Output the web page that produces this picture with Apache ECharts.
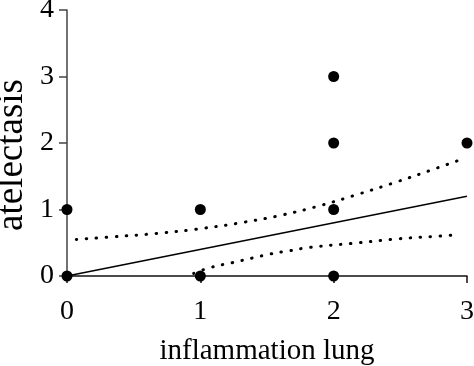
<!DOCTYPE html>
<html><head><meta charset="utf-8">
<script src="https://cdn.jsdelivr.net/npm/echarts@6/dist/echarts.min.js"></script>
<style>html,body{margin:0;padding:0;background:#fff}#c{width:474px;height:366px}</style>
</head><body><div id="c"></div>
<script>
const xTicks = [0, 1, 2, 3];
const yTicks = [0, 1, 2, 3, 4];
const pointsX = [0, 0, 1, 1, 2, 2, 2, 2, 3];
const pointsY = [0, 1, 0, 1, 0, 1, 2, 3, 2];
const fitX = [0, 3];
const fitY = [0, 1.2];
const upperX = [0.07, 0.35, 0.67, 1.03, 1.33, 1.62, 1.9, 2.2, 2.48, 2.77, 2.98];
const upperY = [0.55, 0.59, 0.64, 0.72, 0.81, 0.92, 1.06, 1.24, 1.42, 1.62, 1.77];
const lowerX = [0.95, 1.08, 1.24, 1.39, 1.52, 1.67, 1.82, 2.19, 2.49, 2.79, 2.94];
const lowerY = [0.04, 0.13, 0.2, 0.27, 0.33, 0.38, 0.43, 0.5, 0.56, 0.6, 0.62];
const xName = 'inflammation lung';
const yName = 'atelectasis';

const zip = (a, b) => a.map((v, i) => [v, b[i]]);
const font = 'Liberation Serif';
const chart = echarts.init(document.getElementById('c'));
const dotted = { color: '#000', width: 3, type: [0.5, 9.5], cap: 'round' };
chart.setOption({
  animation: false,
  grid: { left: 67, right: 7, top: 10, bottom: 90, containLabel: false, outerBoundsMode: 'none' },
  xAxis: {
    type: 'value', min: xTicks[0], max: xTicks[xTicks.length - 1], interval: 1,
    name: xName, nameLocation: 'middle', nameGap: 61, nameMoveOverlap: false,
    nameTextStyle: { fontFamily: font, fontSize: 29, color: '#000' },
    axisLine: { show: true, lineStyle: { color: '#111', width: 1.5 } },
    axisTick: { show: true, length: 7, lineStyle: { color: '#111', width: 1.5 } },
    axisLabel: { fontFamily: font, fontSize: 28, color: '#000', margin: 22 },
    splitLine: { show: false }
  },
  yAxis: {
    type: 'value', min: yTicks[0], max: yTicks[yTicks.length - 1], interval: 1,
    name: yName, nameLocation: 'middle', nameGap: 36, nameRotate: 90, nameMoveOverlap: false,
    nameTextStyle: { fontFamily: font, fontSize: 37, color: '#000', padding: [0, 24, 0, 0] },
    axisLine: { show: true, lineStyle: { color: '#444', width: 1.5 } },
    axisTick: { show: true, length: 8, lineStyle: { color: '#444', width: 1.5 } },
    axisLabel: { fontFamily: font, fontSize: 28, color: '#000', margin: 13 },
    splitLine: { show: false }
  },
  series: [
    { type: 'line', data: zip(fitX, fitY), symbol: 'none', lineStyle: { color: '#000', width: 1.5 } },
    { type: 'line', data: zip(upperX, upperY), symbol: 'none', smooth: true, lineStyle: dotted },
    { type: 'line', data: zip(lowerX, lowerY), symbol: 'none', smooth: true, lineStyle: dotted },
    { type: 'scatter', data: zip(pointsX, pointsY), symbol: 'circle', symbolSize: 11,
      itemStyle: { color: '#000', opacity: 1 }, z: 5 }
  ]
});
</script></body></html>
